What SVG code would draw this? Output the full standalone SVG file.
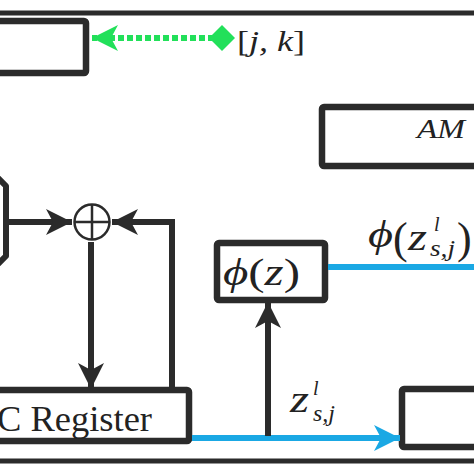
<svg xmlns="http://www.w3.org/2000/svg" width="474" height="474" viewBox="0 0 474 474">
<style>
.box{fill:#fff;stroke:#2b2b2b;stroke-width:6.5;stroke-linejoin:round}
.ln{fill:none;stroke:#2b2b2b;stroke-width:6}
.blue{fill:none;stroke:#1aa8e4;stroke-width:6}
.t{font-family:"Liberation Serif",serif;fill:#222}
.m{font-family:"Liberation Serif",serif;font-style:italic;fill:#222}
.u{font-style:normal}
</style>
<defs>
<marker id="ah" markerUnits="userSpaceOnUse" markerWidth="30" markerHeight="30" refX="26" refY="13" orient="auto" viewBox="0 0 30 30">
<path d="M0,0 L26,13 L0,26 L7,13 Z" fill="#2b2b2b"/>
</marker>
<marker id="ahb" markerUnits="userSpaceOnUse" markerWidth="30" markerHeight="30" refX="26" refY="13" orient="auto" viewBox="0 0 30 30">
<path d="M0,0 L26,13 L0,26 L7,13 Z" fill="#1aa8e4"/>
</marker>
<marker id="ahg" markerUnits="userSpaceOnUse" markerWidth="30" markerHeight="30" refX="26" refY="13" orient="auto" viewBox="0 0 30 30">
<path d="M0,0 L26,13 L0,26 L7,13 Z" fill="#22e05a"/>
</marker>
</defs>
<rect width="474" height="474" fill="#fff"/>
<g id="frame">
<line x1="0" y1="13" x2="474" y2="13" stroke="#2b2b2b" stroke-width="5"/>
<line x1="0" y1="461" x2="474" y2="461" stroke="#2b2b2b" stroke-width="5"/>
</g>
<g id="topbox"><rect class="box" x="-20" y="21" width="106" height="52" rx="2"/></g>
<g id="am"><rect class="box" x="322" y="107" width="170" height="59" rx="2"/>
<text class="m" x="417" y="138" font-size="28" textLength="48" lengthAdjust="spacingAndGlyphs">AM</text></g>
<g id="leftshape"><path class="ln" d="M-4,176 L6,186 L6,256 L-4,266" stroke-linejoin="round"/></g>
<g id="sum"><circle cx="92" cy="222" r="17.5" fill="#fff" stroke="#2b2b2b" stroke-width="2.5"/>
<line x1="74.5" y1="222" x2="109.5" y2="222" stroke="#2b2b2b" stroke-width="2.5"/>
<line x1="92" y1="204.5" x2="92" y2="239.5" stroke="#2b2b2b" stroke-width="2.5"/></g>
<g id="creg"><rect class="box" x="-20" y="390" width="209" height="51" rx="2"/>
<text class="t" x="-3" y="431" font-size="35" textLength="155" lengthAdjust="spacingAndGlyphs">C Register</text></g>
<g id="phi"><rect class="box" x="217" y="243" width="108" height="57" rx="2"/>
<text class="m" x="223" y="285" font-size="38" textLength="77" lengthAdjust="spacingAndGlyphs">ϕ<tspan class="u">(</tspan>z<tspan class="u">)</tspan></text></g>
<g id="outbox"><rect class="box" x="402" y="389" width="90" height="58" rx="2"/></g>
<g id="jk"><text class="m" x="237" y="51" font-size="30" textLength="68" lengthAdjust="spacingAndGlyphs"><tspan class="u">[</tspan>j, k<tspan class="u">]</tspan></text></g>
<g id="connectors">
<line x1="214" y1="38" x2="92" y2="38" stroke="#22e05a" stroke-width="6" stroke-dasharray="6,3" marker-end="url(#ahg)"/>
<path d="M222,25 L235,38 L222,51 L209,38 Z" fill="#22e05a"/>
<line class="ln" x1="6" y1="222" x2="72" y2="222" marker-end="url(#ah)"/>
<path class="ln" d="M172,388 L172,222 L112,222" marker-end="url(#ah)"/>
<line class="ln" x1="91" y1="242" x2="91" y2="389" marker-end="url(#ah)"/>
<line class="blue" x1="192" y1="438" x2="400" y2="438" marker-end="url(#ahb)"/>
<line class="ln" x1="268" y1="436" x2="268" y2="302" marker-end="url(#ah)"/>
<line class="blue" x1="328" y1="267" x2="474" y2="267"/>
</g>
<g id="labels">
<text class="m" x="290" y="412" font-size="37" textLength="19" lengthAdjust="spacingAndGlyphs">z</text>
<text class="m" x="313" y="395" font-size="20">l</text>
<text class="m" x="313" y="421" font-size="23" textLength="22" lengthAdjust="spacingAndGlyphs">s,j</text>
<text class="m" x="368" y="247" font-size="38" textLength="25" lengthAdjust="spacingAndGlyphs">ϕ</text>
<text class="t" x="393" y="253" font-size="44">(</text>
<text class="m" x="408" y="250" font-size="37" textLength="19" lengthAdjust="spacingAndGlyphs">z</text>
<text class="m" x="434" y="231" font-size="20">l</text>
<text class="m" x="430" y="256" font-size="23" textLength="25" lengthAdjust="spacingAndGlyphs">s,j</text>
<text class="t" x="457" y="253" font-size="44">)</text>
</g>
</svg>
